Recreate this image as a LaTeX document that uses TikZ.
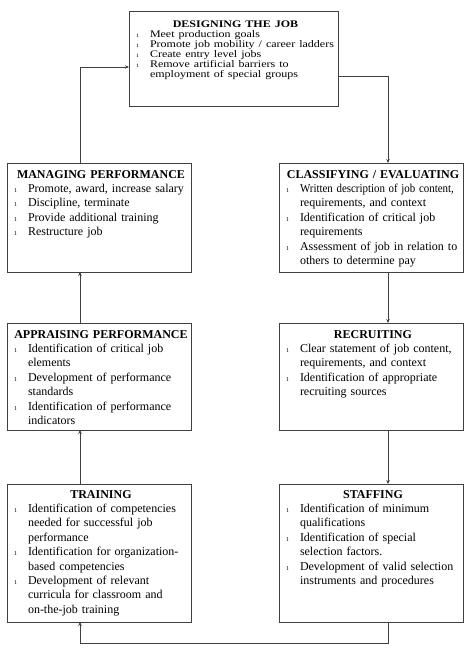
\documentclass[tikz,border=0pt]{standalone}
\usepackage{fontspec}
\setmainfont{Liberation Serif}
\usepackage{graphicx}
\usetikzlibrary{arrows.meta}
\setlength\parindent{0pt}
\newlength\hangw
\setlength\hangw{14pt}
\newcommand\bxtitle[1]{{\centering\strut\textbf{#1}\par}}
\newcommand\itm[1]{\par\noindent\hangindent=\hangw\hangafter=1\makebox[\hangw][l]{\fontsize{6}{6}\selectfont 1}#1\par}
\tikzset{
  box/.style={draw=black!75, line width=0.8pt, inner sep=0pt, outer sep=0pt, anchor=north west},
  txt/.style={anchor=north west, inner sep=0pt, outer sep=0pt, text width=174pt, align=left,
              font=\fontsize{12}{14.4}\selectfont},
  conn/.style={draw=black!75, line width=0.8pt, -{Stealth[length=4pt,width=3.5pt]}},
}
\begin{document}
\begin{tikzpicture}[x=1pt,y=-1pt]
\useasboundingbox (0,0) rectangle (470,654);
% boxes
\node[box, minimum width=209pt, minimum height=95pt] (D) at (129,11) {};
\node[box, minimum width=184pt, minimum height=109pt] (M) at (7,163) {};
\node[box, minimum width=184pt, minimum height=109pt] (C) at (279,163) {};
\node[box, minimum width=184pt, minimum height=107pt] (A) at (7,323) {};
\node[box, minimum width=184pt, minimum height=107pt] (R) at (279,323) {};
\node[box, minimum width=184pt, minimum height=138pt] (T) at (7,484) {};
\node[box, minimum width=184pt, minimum height=138pt] (S) at (279,484) {};
% contents
\node[txt, text width=199pt, font=\fontsize{12}{11.9}\selectfont, yscale=0.84, transform shape] (Dt) at (136,20.5) {%
\bxtitle{DESIGNING THE JOB}%
\itm{Meet production goals}%
\itm{Promote job mobility / career ladders}%
\itm{Create entry level jobs}%
\itm{Remove artificial barriers to\newline employment of special groups}};
\node[txt] (Mt) at (14,168) {%
\bxtitle{MANAGING PERFORMANCE}%
\itm{Promote, award, increase salary}%
\itm{Discipline, terminate}%
\itm{Provide additional training}%
\itm{Restructure job}};
\node[txt] (Ct) at (286,168) {%
\bxtitle{CLASSIFYING / EVALUATING}%
\itm{\scalebox{0.91}[1]{Written description of job content,}\newline requirements, and context}%
\itm{Identification of critical job\newline requirements}%
\itm{Assessment of job in relation to\newline others to determine pay}};
\node[txt] (At) at (14,328) {%
\bxtitle{APPRAISING PERFORMANCE}%
\itm{Identification of critical job\newline elements}%
\itm{Development of performance\newline standards}%
\itm{Identification of performance\newline indicators}};
\node[txt] (Rt) at (286,328) {%
\bxtitle{RECRUITING}%
\itm{Clear statement of job content,\newline requirements, and context}%
\itm{Identification of appropriate\newline recruiting sources}};
\node[txt] (Tt) at (14,488) {%
\bxtitle{TRAINING}%
\itm{Identification of competencies\newline needed for successful job\newline performance}%
\itm{Identification for organization-\newline based competencies}%
\itm{Development of relevant\newline curricula for classroom and\newline on-the-job training}};
\node[txt] (St) at (286,488) {%
\bxtitle{STAFFING}%
\itm{Identification of minimum\newline qualifications}%
\itm{Identification of special\newline selection factors.}%
\itm{Development of valid selection\newline instruments and procedures}};
% connectors
\draw[conn] ([yshift=-17.5pt]D.east) -| ([xshift=17pt]C.north);
\draw[conn] ([xshift=17pt]C.south) -- ([xshift=17pt]R.north);
\draw[conn] ([xshift=17pt]R.south) -- ([xshift=17pt]S.north);
\draw[conn] ([xshift=17pt]S.south) -- ++(0,21) -| ([xshift=-19pt]T.south);
\draw[conn] ([xshift=-19pt]T.north) -- ([xshift=-19pt]A.south);
\draw[conn] ([xshift=-19pt]A.north) -- ([xshift=-19pt]M.south);
\draw[conn] ([xshift=-19pt]M.north) |- ([yshift=-8.5pt]D.west);
\end{tikzpicture}
\end{document}
